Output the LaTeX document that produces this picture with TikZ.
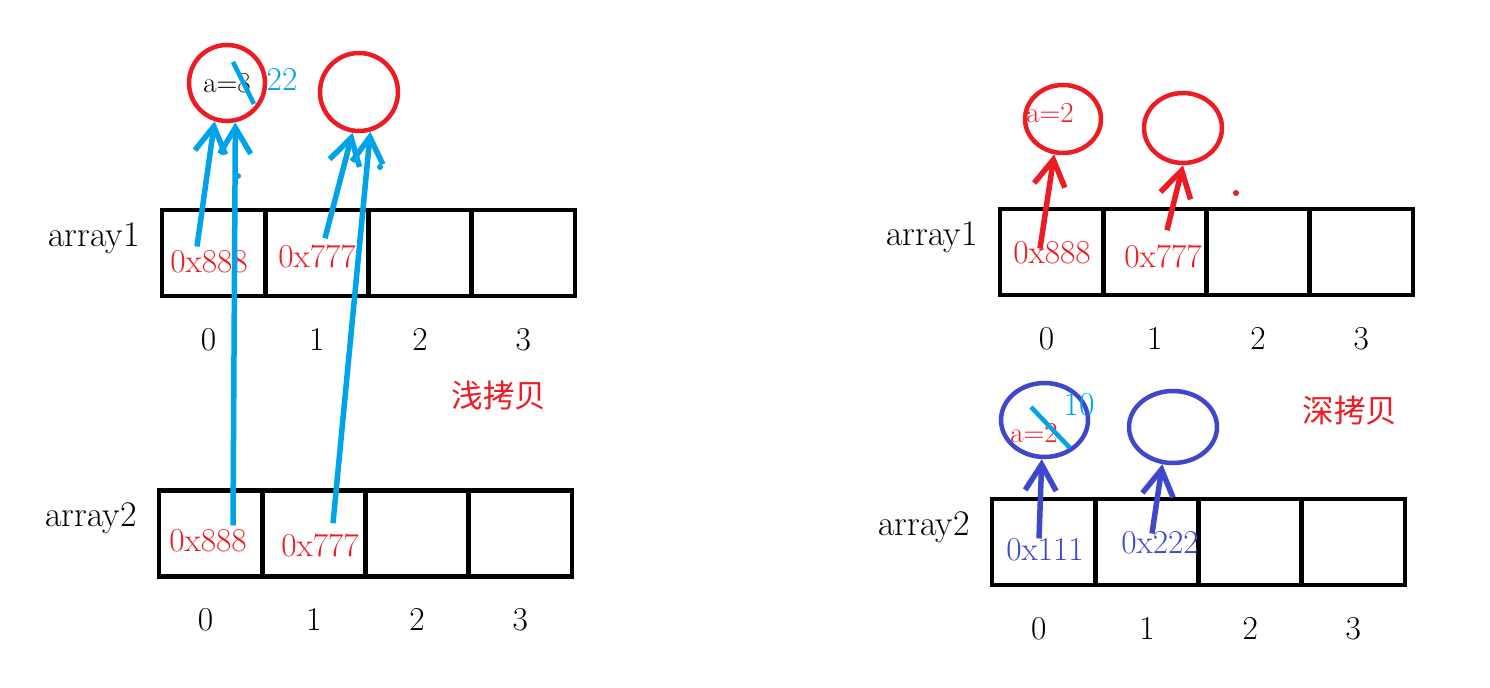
\documentclass[tikz,border=0pt]{standalone}
\usepackage{fontspec}
\usepackage{tikz}
\usetikzlibrary{
    arrows.meta,
    positioning,
    shapes.geometric,
    calc
}
\newfontfamily\cjkfont{Noto Sans CJK SC}
\definecolor{PaintRed}{RGB}{237,28,36}
\definecolor{PaintCyan}{RGB}{0,162,232}
\definecolor{PaintBlue}{RGB}{63,72,204}

\begin{document}
\begin{tikzpicture}[
    x=0.02cm,
    y=-0.02cm,
    node distance=0pt,
    cell/.style={
        draw,
        line width=0.095cm,
        minimum width=2.065cm,
        minimum height=1.72cm,
        inner sep=0pt,
        outer sep=0pt
    },
    idx/.style={inner sep=0pt, font=\fontsize{19}{22}\selectfont},
    arrname/.style={inner sep=0pt, font=\fontsize{20.5}{24}\selectfont},
    addr/.style={font=\fontsize{19}{22}\selectfont},
    obj/.style={
        ellipse,
        draw,
        line width=0.09cm,
        inner sep=0pt
    },
    ptr/.style={
        line width=0.11cm,
        -{Straight Barb[length=0.52cm, width=0.62cm]}
    },
    strike/.style={draw=PaintCyan, line width=0.09cm}
]

\useasboundingbox (0,0) rectangle (1490,688);

% shallow copy: array1
\node[cell] (La0) at (213.6,253) {};
\node[cell, right=of La0] (La1) {};
\node[cell, right=of La1] (La2) {};
\node[cell, right=of La2] (La3) {};
\node[arrname, left=0.44cm of La0, yshift=0.3cm] (LaName) {array1};
\node[idx, below=0.64cm of La0, xshift=-0.1cm] (LaI0) {0};
\node[idx, below=0.64cm of La1] (LaI1) {1};
\node[idx, below=0.64cm of La2] (LaI2) {2};
\node[idx, below=0.64cm of La3] (LaI3) {3};

% shallow copy: array2
\node[cell] (Lb0) at (210.6,533.5) {};
\node[cell, right=of Lb0] (Lb1) {};
\node[cell, right=of Lb1] (Lb2) {};
\node[cell, right=of Lb2] (Lb3) {};
\node[arrname, left=0.44cm of Lb0, yshift=0.3cm] (LbName) {array2};
\node[idx, below=0.64cm of Lb0, xshift=-0.1cm] (LbI0) {0};
\node[idx, below=0.64cm of Lb1] (LbI1) {1};
\node[idx, below=0.64cm of Lb2] (LbI2) {2};
\node[idx, below=0.64cm of Lb3] (LbI3) {3};

% deep copy: array1
\node[cell] (Ra0) at (1051.6,252) {};
\node[cell, right=of Ra0] (Ra1) {};
\node[cell, right=of Ra1] (Ra2) {};
\node[cell, right=of Ra2] (Ra3) {};
\node[arrname, left=0.44cm of Ra0, yshift=0.3cm] (RaName) {array1};
\node[idx, below=0.64cm of Ra0, xshift=-0.1cm] (RaI0) {0};
\node[idx, below=0.64cm of Ra1] (RaI1) {1};
\node[idx, below=0.64cm of Ra2] (RaI2) {2};
\node[idx, below=0.64cm of Ra3] (RaI3) {3};

% deep copy: array2
\node[cell] (Rb0) at (1043.7,542) {};
\node[cell, right=of Rb0] (Rb1) {};
\node[cell, right=of Rb1] (Rb2) {};
\node[cell, right=of Rb2] (Rb3) {};
\node[arrname, left=0.44cm of Rb0, yshift=0.3cm] (RbName) {array2};
\node[idx, below=0.64cm of Rb0, xshift=-0.1cm] (RbI0) {0};
\node[idx, below=0.64cm of Rb1] (RbI1) {1};
\node[idx, below=0.64cm of Rb2] (RbI2) {2};
\node[idx, below=0.64cm of Rb3] (RbI3) {3};

% addresses
\node[addr, text=PaintRed] (LaT0) at (209,262) {0x888};
\node[addr, text=PaintRed] (LaT1) at (317,256) {0x777};
\node[addr, text=PaintRed] (LbT0) at (208,541) {0x888};
\node[addr, text=PaintRed] (LbT1) at (320,545) {0x777};
\node[addr, text=PaintRed] (RaT0) at (1052,253) {0x888};
\node[addr, text=PaintRed] (RaT1) at (1163,256) {0x777};
\node[addr, text=PaintBlue] (RbT0) at (1045,550) {0x111};
\node[addr, text=PaintBlue] (RbT1) at (1160,543) {0x222};

% objects
\node[
    obj,
    draw=PaintRed,
    minimum width=1.52cm,
    minimum height=1.52cm,
    font=\fontsize{16.5}{19}\selectfont
] (LcA) at (227,83) {a=8};
\node[
    obj,
    draw=PaintRed,
    minimum width=1.56cm,
    minimum height=1.56cm
] (LcB) at (359,92) {};
\node[
    obj,
    draw=PaintRed,
    minimum width=1.52cm,
    minimum height=1.36cm
] (RcA) at (1063,119) {};
\node[
    obj,
    draw=PaintRed,
    minimum width=1.56cm,
    minimum height=1.40cm
] (RcB) at (1183,128) {};
\node[
    obj,
    draw=PaintBlue,
    minimum width=1.74cm,
    minimum height=1.48cm
] (RbA) at (1044.5,420) {};
\node[
    obj,
    draw=PaintBlue,
    minimum width=1.76cm,
    minimum height=1.44cm
] (RbB) at (1173,427) {};

\node[text=PaintRed, font=\fontsize{16.5}{19}\selectfont] (RcAval) at (1050,113) {a=2};
\node[text=PaintRed, font=\fontsize{16.5}{19}\selectfont] (RbAval) at (1034,433) {a=2};

% edits
\draw[strike] (233,62) -- (254,104);
\node[text=PaintCyan, font=\fontsize{19}{22}\selectfont] (LcAnew) at (282,79) {22};
\draw[strike] (1031,407) -- (1070,448);
\node[text=PaintCyan, font=\fontsize{19}{22}\selectfont] (RbAnew) at (1079,405) {10};

% captions
\node[text=PaintRed, font=\fontsize{18}{21}\selectfont\cjkfont] (shallow) at (499,396) {浅拷贝};
\node[text=PaintRed, font=\fontsize{18}{21}\selectfont\cjkfont] (deep) at (1350,410) {深拷贝};

% pointers
\draw[ptr, PaintCyan] ($(LaT0.north)+(-12,2)$) -- (LcA.-108);
\draw[ptr, PaintCyan] ($(LbT0.north)+(25,2)$) -- (LcA.-78);
\draw[ptr, PaintCyan] ($(LaT1.north)+(8,0)$) -- (LcB.-99);
\draw[ptr, PaintCyan] ($(LbT1.north)+(13,-4)$) -- (LcB.-74);
\draw[ptr, PaintRed] ($(RaT0.north)+(-12,13)$) -- (RcA.-104);
\draw[ptr, PaintRed] ($(RaT1.north)+(4,-8)$) -- (RcB.-90);
\draw[ptr, PaintBlue] ($(RbT0.north)+(-6,6)$) -- (RbA.-94);
\draw[ptr, PaintBlue] ($(RbT1.north)+(-8,8)$) -- (RbB.-106);

% stray dots
\fill[PaintCyan] (238,176) circle (3);
\fill[PaintCyan] (380,167) circle (3);
\fill[PaintRed] (1236,193) circle (3);

\end{tikzpicture}
\end{document}
